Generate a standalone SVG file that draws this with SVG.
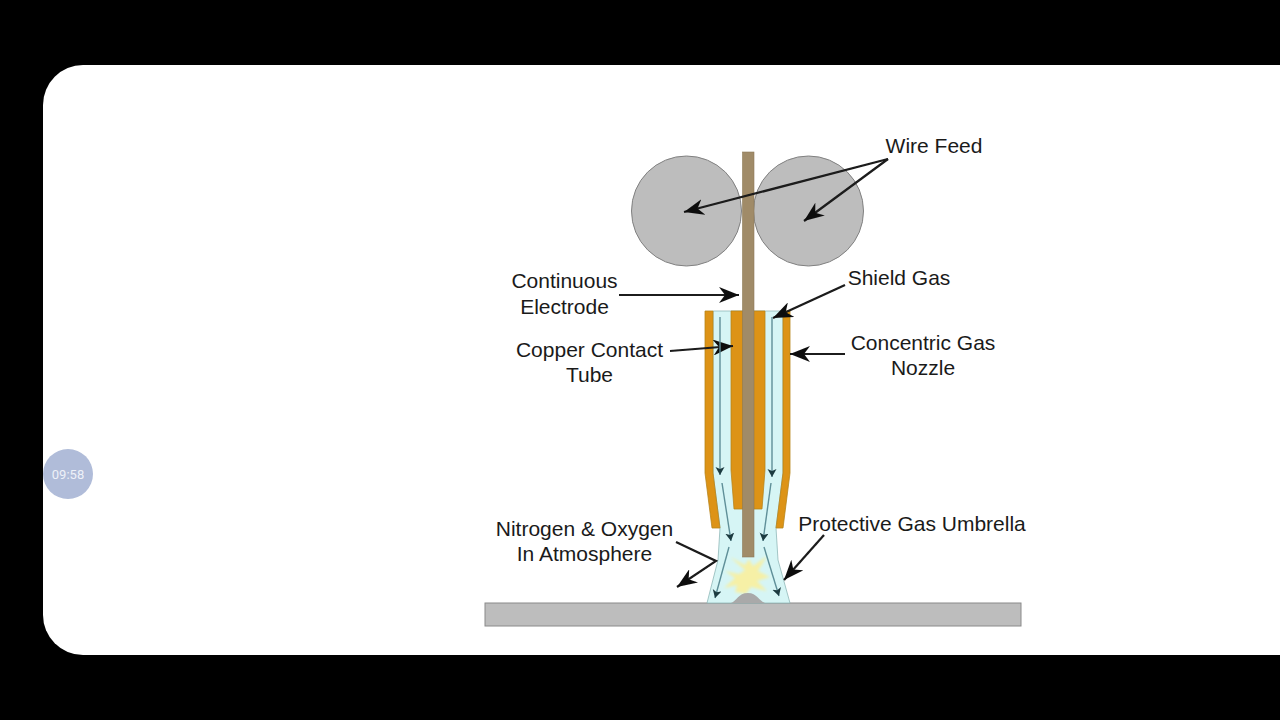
<svg xmlns="http://www.w3.org/2000/svg" width="1280" height="720" viewBox="0 0 1280 720">
<style>
.l{font-family:"Liberation Sans",Arial,sans-serif;font-size:21px;fill:#1a1a1a;text-anchor:middle}
.c{stroke:#1a1a1a;stroke-width:2.200;fill:none;marker-end:url(#a)}
.g{stroke:#5f8f98;stroke-width:1.400;fill:none;marker-end:url(#s)}
.o{fill:#dd9312;stroke:#b8851f;stroke-width:.8}
</style>
<defs>
<marker id="a" markerUnits="userSpaceOnUse" markerWidth="22" markerHeight="16" refX="20" refY="8" orient="auto"><path d="M0 0L20 8L0 16L6 8Z" fill="#111"/></marker>
<marker id="s" markerUnits="userSpaceOnUse" markerWidth="9" markerHeight="10" refX="8" refY="4.500" orient="auto"><path d="M0 0L8 4.500L0 9L2 4.500Z" fill="#1d3a40"/></marker>
<filter id="soft" x="-5%" y="-5%" width="110%" height="110%"><feGaussianBlur stdDeviation=".45"/></filter>
<filter id="glow" x="-20%" y="-20%" width="140%" height="140%"><feGaussianBlur stdDeviation="1.500"/></filter>
</defs>
<rect width="1280" height="720" fill="#000"/>
<rect x="43" y="65" width="1300" height="590" rx="40" fill="#fff"/>
<g id="timer"><circle cx="68" cy="474" r="25" fill="#b0bcd9"/><text x="68" y="479" font-family="Roboto,sans-serif" font-size="13" fill="#eef1f8" text-anchor="middle">09:58</text></g>
<g filter="url(#soft)">
<g id="workpiece"><rect x="485" y="603" width="536" height="23" fill="#bdbdbd" stroke="#8a8a8a"/></g>
<g id="rollers"><circle cx="686.500" cy="211" r="55" fill="#bdbdbd" stroke="#808080"/><circle cx="808.500" cy="211" r="55" fill="#bdbdbd" stroke="#808080"/></g>
<g id="gas"><path d="M713 311H783L783 473L776 528L778 560L790 603H707L718 560L720 528L713 473Z" fill="#d6f5f5" stroke="#8fb8b8" stroke-width=".8"/>
<path d="M745 570L730 557L745 565L749 559L753 566L767 556L758 571L770 577L757 581L767 591L751 587L746 594L735 592L737 585L724 588L735 578L725 571L739 574Z" fill="#f6f0a6" filter="url(#glow)"/>
<path d="M731 603C737 601 738 593 748 593C757 593 759 601 765 603Z" fill="#a9a9a9"/></g>
<g id="nozzle"><path class="o" d="M705 311H713V473L720 528H712L705 473Z"/><path class="o" d="M783 311H790V473L783 528H776L783 473Z"/></g>
<g id="contact-tube"><path class="o" d="M731 311H765V470L762 509H734L731 470Z"/></g>
<g id="wire"><rect x="742.500" y="152" width="11.500" height="405" fill="#a08b68" stroke="#8d7a58" stroke-width=".6"/></g>
<g id="connectors">
<path class="c" d="M888 159L684 212"/>
<path class="c" d="M888 159L804 221"/>
<path class="c" d="M619 295H739"/>
<path class="c" d="M845 285L773 318"/>
<path class="c" d="M670 351L733 346"/>
<path class="c" d="M845 354H790"/>
<path class="c" d="M676 542L716 561L677 587"/>
<path class="c" d="M824 535L784 580"/>
<path class="g" d="M720 317V475"/><path class="g" d="M772 317V477"/>
<path class="g" d="M722 483L731 541"/><path class="g" d="M771 483L763 541"/>
<path class="g" d="M729 547L715 598"/><path class="g" d="M764 547L779 596"/>
</g>
</g>
<g id="labels">
<text class="l" x="934" y="153">Wire Feed</text>
<text class="l" x="564.500" y="288">Continuous</text><text class="l" x="564.500" y="314">Electrode</text>
<text class="l" x="899" y="285">Shield Gas</text>
<text class="l" x="589.500" y="357">Copper Contact</text><text class="l" x="589.500" y="382">Tube</text>
<text class="l" x="923" y="350">Concentric Gas</text><text class="l" x="923" y="375">Nozzle</text>
<text class="l" x="584.500" y="536">Nitrogen &amp; Oxygen</text><text class="l" x="584.500" y="561">In Atmosphere</text>
<text class="l" x="912" y="531">Protective Gas Umbrella</text>
</g>
</svg>
